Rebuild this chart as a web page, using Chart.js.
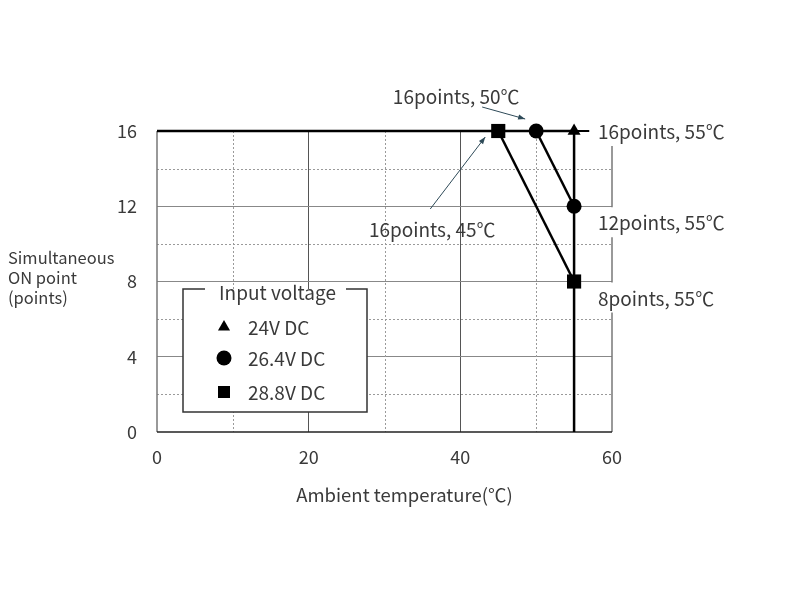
<!DOCTYPE html>
<html>
<head>
<meta charset="utf-8">
<script src="https://cdn.jsdelivr.net/npm/chart.js@4.4.1/dist/chart.umd.min.js"></script>
<style>
html,body{margin:0;padding:0;background:#fff;}
#wrap{width:800px;height:600px;}
</style>
</head>
<body>
<div id="wrap"><canvas id="c" width="800" height="600"></canvas></div>
<script>
// ---- data ----
const seriesNames = ['24V DC', '26.4V DC', '28.8V DC'];
const temp24 = [0, 55, 55];
const pts24 = [16, 16, 0];
const temp264 = [50, 55];
const pts264 = [16, 12];
const temp288 = [45, 55];
const pts288 = [16, 8];
const xTicks = [0, 20, 40, 60];
const yTicks = [0, 4, 8, 12, 16];
const xTitle = 'Ambient temperature(℃)';
const yTitleLines = ['Simultaneous', 'ON point', '(points)'];
const legendTitle = 'Input voltage';
const rightNotes = [
  {t: 55, v: 16, text: '16points, 55℃'},
  {t: 55, v: 12, text: '12points, 55℃'},
  {t: 55, v: 8,  text: '8points, 55℃'}
];
const arrowNotes = [
  {t: 50, v: 16, text: '16points, 50℃'},
  {t: 45, v: 16, text: '16points, 45℃'}
];

const FONT = "'Noto Sans CJK JP', 'Noto Sans', sans-serif";
const TXT = '#3a3a3a';

function toXY(xs, ys){ return xs.map((x,i)=>({x:x, y:ys[i]})); }

const ds = [
  {label: seriesNames[0], data: toXY(temp24, pts24), pointStyle:'triangle',
   pointRadius: ctx => ctx.dataIndex === 1 ? 7.5 : 0},
  {label: seriesNames[1], data: toXY(temp264, pts264), pointStyle:'circle', pointRadius: 7.5},
  {label: seriesNames[2], data: toXY(temp288, pts288), pointStyle:'rect', pointRadius: 10}
].map(d => Object.assign({
  borderColor:'#000', backgroundColor:'#000', borderWidth:2.5,
  pointBackgroundColor:'#000', pointBorderColor:'#000', pointBorderWidth:0,
  pointHoverRadius:0, showLine:true, tension:0, fill:false, clip:false
}, d));

function arrow(ctx, x1, y1, x2, y2, color){
  ctx.save();
  ctx.strokeStyle = color; ctx.fillStyle = color; ctx.lineWidth = 1;
  ctx.beginPath(); ctx.moveTo(x1, y1); ctx.lineTo(x2, y2); ctx.stroke();
  const a = Math.atan2(y2 - y1, x2 - x1), L = 7, W = 2.6;
  ctx.beginPath();
  ctx.moveTo(x2, y2);
  ctx.lineTo(x2 - L*Math.cos(a) + W*Math.sin(a), y2 - L*Math.sin(a) - W*Math.cos(a));
  ctx.lineTo(x2 - L*Math.cos(a) - W*Math.sin(a), y2 - L*Math.sin(a) + W*Math.cos(a));
  ctx.closePath(); ctx.fill();
  ctx.restore();
}

const deco = {
  id: 'deco',
  beforeDatasetsDraw(chart){
    const ctx = chart.ctx, xs = chart.scales.x, ys = chart.scales.y;
    const L = xs.getPixelForValue(0), R = xs.getPixelForValue(60);
    const T = ys.getPixelForValue(16), B = ys.getPixelForValue(0);
    ctx.save();
    // minor dotted grid
    ctx.strokeStyle = '#9a9a9a'; ctx.lineWidth = 1; ctx.setLineDash([2, 2]);
    [10, 30, 50].forEach(v => {
      const p = Math.round(xs.getPixelForValue(v)) + 0.5;
      ctx.beginPath(); ctx.moveTo(p, T); ctx.lineTo(p, B); ctx.stroke();
    });
    [2, 6, 10, 14].forEach(v => {
      const p = Math.round(ys.getPixelForValue(v)) + 0.5;
      ctx.beginPath(); ctx.moveTo(L, p); ctx.lineTo(R, p); ctx.stroke();
    });
    ctx.setLineDash([]);
    // borders
    ctx.strokeStyle = '#777'; ctx.lineWidth = 1.5;
    ctx.beginPath(); ctx.moveTo(L, T); ctx.lineTo(L, B); ctx.stroke();
    ctx.beginPath(); ctx.moveTo(R, T); ctx.lineTo(R, B); ctx.stroke();
    ctx.strokeStyle = '#222'; ctx.lineWidth = 1.5;
    ctx.beginPath(); ctx.moveTo(L, B); ctx.lineTo(R, B); ctx.stroke();
    ctx.strokeStyle = '#000'; ctx.lineWidth = 2;
    ctx.beginPath(); ctx.moveTo(L, T); ctx.lineTo(xs.getPixelForValue(57), T); ctx.stroke();
    ctx.restore();
  },
  afterDatasetsDraw(chart){
    const ctx = chart.ctx, xs = chart.scales.x, ys = chart.scales.y;
    const R = xs.getPixelForValue(60);
    ctx.save();
    ctx.font = '19px ' + FONT;
    ctx.textBaseline = 'middle';
    // right notes with white backgrounds (break the right border)
    rightNotes.forEach(n => {
      const y = ys.getPixelForValue(n.v) + (n.v === 16 ? 0 : 16);
      const x = R - 14;
      const w = ctx.measureText(n.text).width;
      ctx.fillStyle = '#fff';
      ctx.fillRect(x - 6, y - 15, w + 12, 30);
      ctx.fillStyle = TXT; ctx.textAlign = 'left';
      ctx.fillText(n.text, x, y + 1);
    });
    // arrow notes
    const aColor = '#2e4a58';
    {
      const n = arrowNotes[0];
      const px = xs.getPixelForValue(n.t), py = ys.getPixelForValue(n.v);
      ctx.fillStyle = TXT; ctx.textAlign = 'center';
      ctx.fillText(n.text, px - 80, py - 34);
      arrow(ctx, px - 54, py - 24, px - 11, py - 12, aColor);
    }
    {
      const n = arrowNotes[1];
      const px = xs.getPixelForValue(n.t), py = ys.getPixelForValue(n.v);
      ctx.fillStyle = TXT; ctx.textAlign = 'center';
      ctx.fillText(n.text, px - 66, py + 99);
      arrow(ctx, px - 68, py + 78, px - 13, py + 6, aColor);
    }
    // legend box
    const bx = 183, by = 289, bw = 184, bh = 123;
    ctx.fillStyle = '#fff';
    ctx.fillRect(bx, by, bw, bh);
    ctx.strokeStyle = '#333'; ctx.lineWidth = 1.5;
    ctx.beginPath();
    ctx.moveTo(bx + 22, by); ctx.lineTo(bx, by); ctx.lineTo(bx, by + bh);
    ctx.lineTo(bx + bw, by + bh); ctx.lineTo(bx + bw, by); ctx.lineTo(bx + 163, by);
    ctx.stroke();
    ctx.fillStyle = TXT; ctx.textAlign = 'left';
    ctx.fillText(legendTitle, bx + 36, by + 4);
    const rowsY = [by + 38, by + 69, by + 103];
    const radii = [7, 7.5, 8.5];
    chart.data.datasets.forEach((d, i) => {
      ctx.fillStyle = '#000';
      Chart.helpers.drawPoint(ctx, {pointStyle: d.pointStyle, radius: radii[i], borderWidth: 0, rotation: 0},
        bx + 41, rowsY[i]);
      ctx.fillStyle = TXT;
      ctx.fillText(d.label, bx + 65, rowsY[i] + 1);
    });
    // axis titles
    ctx.font = '18.5px ' + FONT;
    ctx.textAlign = 'center';
    ctx.fillText(xTitle, (xs.getPixelForValue(0) + R) / 2 + 20, 495);
    ctx.font = '16.5px ' + FONT; ctx.textAlign = 'left';
    yTitleLines.forEach((s, i) => ctx.fillText(s, 8, 258 + i * 20));
    ctx.restore();
  }
};

new Chart(document.getElementById('c'), {
  type: 'scatter',
  data: { datasets: ds },
  options: {
    responsive: false,
    animation: false,
    devicePixelRatio: 1,
    layout: { padding: { top: 131, right: 188, left: 0, bottom: 0 } },
    plugins: { legend: { display: false }, tooltip: { enabled: false } },
    scales: {
      x: {
        type: 'linear', min: 0, max: 60,
        afterFit: s => { s.height = 168; },
        afterBuildTicks: s => { s.ticks = [0,10,20,30,40,50,60].map(v => ({value: v})); },
        ticks: {
          padding: 14, color: TXT, font: { family: FONT, size: 18 },
          maxRotation: 0, autoSkip: false,
          callback: v => xTicks.includes(v) ? String(v) : ''
        },
        grid: { drawTicks: false, lineWidth: 1,
          color: c => (c.tick && (c.tick.value === 20 || c.tick.value === 40)) ? '#555' : 'rgba(0,0,0,0)' },
        border: { display: false }
      },
      y: {
        type: 'linear', min: 0, max: 16,
        afterFit: s => { s.width = 157; },
        afterBuildTicks: s => { s.ticks = [0,2,4,6,8,10,12,14,16].map(v => ({value: v})); },
        ticks: {
          padding: 20, color: TXT, font: { family: FONT, size: 18 },
          autoSkip: false,
          callback: v => yTicks.includes(v) ? String(v) : ''
        },
        grid: { drawTicks: false, lineWidth: 1,
          color: c => (c.tick && [4,8,12].includes(c.tick.value)) ? '#888' : 'rgba(0,0,0,0)' },
        border: { display: false }
      }
    }
  },
  plugins: [deco]
});
</script>
</body>
</html>
